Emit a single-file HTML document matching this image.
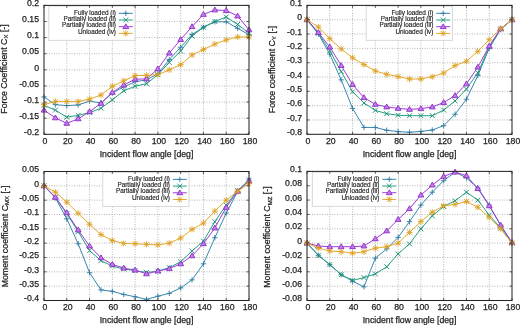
<!DOCTYPE html>
<html><head><meta charset="utf-8"><style>
html,body{margin:0;padding:0;background:#fff;}
svg{display:block;filter:blur(0.3px);}
text{font-family:"Liberation Sans",Arial,sans-serif;fill:#1e1e1e;stroke:#1e1e1e;stroke-width:0.25px;}
.yt{font-size:8.7px;text-anchor:end;}
.xt{font-size:8.7px;text-anchor:middle;}
.xl{font-size:8.7px;text-anchor:middle;}
.yl{font-size:8.8px;text-anchor:middle;}
.sub{font-size:6px;}
.lt{font-size:6.4px;text-anchor:end;stroke-width:0.15px;}
.grid{stroke:#a9a9a9;stroke-width:0.85;stroke-dasharray:1 1.5;fill:none;}
.tick{stroke:#333;stroke-width:0.8;fill:none;}
.frame{stroke:#262626;stroke-width:1.05;fill:none;}
.leg{stroke:#cfcfcf;stroke-width:0.8;fill:#fff;}
.ln{fill:none;stroke-width:1;}
.m{fill:none;stroke-width:0.9;}
</style></head><body>
<svg width="520" height="325" viewBox="0 0 520 325">
<rect width="520" height="325" fill="#fff"/>
<path d="M66.78 5.40V134.30M89.56 5.40V134.30M112.33 5.40V134.30M135.11 5.40V134.30M157.89 5.40V134.30M180.67 5.40V134.30M203.44 5.40V134.30M226.22 5.40V134.30M44.00 21.51H249.00M44.00 37.62H249.00M44.00 53.74H249.00M44.00 69.85H249.00M44.00 85.96H249.00M44.00 102.08H249.00M44.00 118.19H249.00" class="grid"/>
<rect x="48.80" y="6.10" width="86.2" height="34.20" class="leg"/>
<polyline points="44.00,96.92 55.39,104.65 66.78,105.62 78.17,104.98 89.56,101.11 100.94,103.04 112.33,93.05 123.72,86.93 135.11,81.77 146.50,79.84 157.89,73.72 169.28,59.54 180.67,47.29 192.06,34.40 203.44,27.31 214.83,21.83 226.22,21.83 237.61,28.28 249.00,34.72" stroke="#3a88b0" class="ln"/>
<path d="M41.30 96.92H46.70M44.00 94.22V99.62" stroke="#2f7aa2" class="m"/>
<path d="M52.69 104.65H58.09M55.39 101.95V107.35" stroke="#2f7aa2" class="m"/>
<path d="M64.08 105.62H69.48M66.78 102.92V108.32" stroke="#2f7aa2" class="m"/>
<path d="M75.47 104.98H80.87M78.17 102.28V107.68" stroke="#2f7aa2" class="m"/>
<path d="M86.86 101.11H92.26M89.56 98.41V103.81" stroke="#2f7aa2" class="m"/>
<path d="M98.24 103.04H103.64M100.94 100.34V105.74" stroke="#2f7aa2" class="m"/>
<path d="M109.63 93.05H115.03M112.33 90.35V95.75" stroke="#2f7aa2" class="m"/>
<path d="M121.02 86.93H126.42M123.72 84.23V89.63" stroke="#2f7aa2" class="m"/>
<path d="M132.41 81.77H137.81M135.11 79.07V84.47" stroke="#2f7aa2" class="m"/>
<path d="M143.80 79.84H149.20M146.50 77.14V82.54" stroke="#2f7aa2" class="m"/>
<path d="M155.19 73.72H160.59M157.89 71.02V76.42" stroke="#2f7aa2" class="m"/>
<path d="M166.58 59.54H171.98M169.28 56.84V62.24" stroke="#2f7aa2" class="m"/>
<path d="M177.97 47.29H183.37M180.67 44.59V49.99" stroke="#2f7aa2" class="m"/>
<path d="M189.36 34.40H194.76M192.06 31.70V37.10" stroke="#2f7aa2" class="m"/>
<path d="M200.74 27.31H206.14M203.44 24.61V30.01" stroke="#2f7aa2" class="m"/>
<path d="M212.13 21.83H217.53M214.83 19.13V24.53" stroke="#2f7aa2" class="m"/>
<path d="M223.52 21.83H228.92M226.22 19.13V24.53" stroke="#2f7aa2" class="m"/>
<path d="M234.91 28.28H240.31M237.61 25.58V30.98" stroke="#2f7aa2" class="m"/>
<path d="M246.30 34.72H251.70M249.00 32.02V37.42" stroke="#2f7aa2" class="m"/>
<polyline points="44.00,105.30 55.39,110.13 66.78,117.22 78.17,115.29 89.56,112.71 100.94,108.20 112.33,99.82 123.72,90.80 135.11,86.28 146.50,83.71 157.89,74.68 169.28,62.44 180.67,51.16 192.06,36.01 203.44,27.31 214.83,21.51 226.22,17.00 237.61,24.41 249.00,33.11" stroke="#22a084" class="ln"/>
<path d="M41.57 102.87L46.43 107.73M41.57 107.73L46.43 102.87" stroke="#168a6c" class="m"/>
<path d="M52.96 107.70L57.82 112.56M52.96 112.56L57.82 107.70" stroke="#168a6c" class="m"/>
<path d="M64.35 114.79L69.21 119.65M64.35 119.65L69.21 114.79" stroke="#168a6c" class="m"/>
<path d="M75.74 112.86L80.60 117.72M75.74 117.72L80.60 112.86" stroke="#168a6c" class="m"/>
<path d="M87.13 110.28L91.99 115.14M87.13 115.14L91.99 110.28" stroke="#168a6c" class="m"/>
<path d="M98.51 105.77L103.37 110.63M98.51 110.63L103.37 105.77" stroke="#168a6c" class="m"/>
<path d="M109.90 97.39L114.76 102.25M109.90 102.25L114.76 97.39" stroke="#168a6c" class="m"/>
<path d="M121.29 88.37L126.15 93.23M121.29 93.23L126.15 88.37" stroke="#168a6c" class="m"/>
<path d="M132.68 83.85L137.54 88.71M132.68 88.71L137.54 83.85" stroke="#168a6c" class="m"/>
<path d="M144.07 81.28L148.93 86.14M144.07 86.14L148.93 81.28" stroke="#168a6c" class="m"/>
<path d="M155.46 72.25L160.32 77.11M155.46 77.11L160.32 72.25" stroke="#168a6c" class="m"/>
<path d="M166.85 60.01L171.71 64.87M166.85 64.87L171.71 60.01" stroke="#168a6c" class="m"/>
<path d="M178.24 48.73L183.10 53.59M178.24 53.59L183.10 48.73" stroke="#168a6c" class="m"/>
<path d="M189.63 33.58L194.49 38.44M189.63 38.44L194.49 33.58" stroke="#168a6c" class="m"/>
<path d="M201.01 24.88L205.87 29.74M201.01 29.74L205.87 24.88" stroke="#168a6c" class="m"/>
<path d="M212.40 19.08L217.26 23.94M212.40 23.94L217.26 19.08" stroke="#168a6c" class="m"/>
<path d="M223.79 14.57L228.65 19.43M223.79 19.43L228.65 14.57" stroke="#168a6c" class="m"/>
<path d="M235.18 21.98L240.04 26.84M235.18 26.84L240.04 21.98" stroke="#168a6c" class="m"/>
<path d="M246.57 30.68L251.43 35.54M246.57 35.54L251.43 30.68" stroke="#168a6c" class="m"/>
<polyline points="44.00,110.13 55.39,117.87 66.78,123.34 78.17,118.83 89.56,111.74 100.94,103.36 112.33,92.41 123.72,85.00 135.11,79.20 146.50,78.87 157.89,68.88 169.28,53.09 180.67,39.56 192.06,26.67 203.44,14.42 214.83,9.91 226.22,10.56 237.61,16.03 249.00,29.89" stroke="#a03cd8" class="ln"/>
<path d="M44.00 107.24L46.89 112.08H41.11Z" stroke="#8e2cc6" class="m" style="fill:#bf7ee8"/>
<path d="M55.39 114.98L58.28 119.81H52.50Z" stroke="#8e2cc6" class="m" style="fill:#bf7ee8"/>
<path d="M66.78 120.45L69.67 125.29H63.89Z" stroke="#8e2cc6" class="m" style="fill:#bf7ee8"/>
<path d="M78.17 115.94L81.06 120.78H75.28Z" stroke="#8e2cc6" class="m" style="fill:#bf7ee8"/>
<path d="M89.56 108.85L92.44 113.69H86.67Z" stroke="#8e2cc6" class="m" style="fill:#bf7ee8"/>
<path d="M100.94 100.48L103.83 105.31H98.06Z" stroke="#8e2cc6" class="m" style="fill:#bf7ee8"/>
<path d="M112.33 89.52L115.22 94.35H109.44Z" stroke="#8e2cc6" class="m" style="fill:#bf7ee8"/>
<path d="M123.72 82.11L126.61 86.94H120.83Z" stroke="#8e2cc6" class="m" style="fill:#bf7ee8"/>
<path d="M135.11 76.31L138.00 81.14H132.22Z" stroke="#8e2cc6" class="m" style="fill:#bf7ee8"/>
<path d="M146.50 75.98L149.39 80.82H143.61Z" stroke="#8e2cc6" class="m" style="fill:#bf7ee8"/>
<path d="M157.89 65.99L160.78 70.83H155.00Z" stroke="#8e2cc6" class="m" style="fill:#bf7ee8"/>
<path d="M169.28 50.20L172.17 55.04H166.39Z" stroke="#8e2cc6" class="m" style="fill:#bf7ee8"/>
<path d="M180.67 36.67L183.56 41.50H177.78Z" stroke="#8e2cc6" class="m" style="fill:#bf7ee8"/>
<path d="M192.06 23.78L194.94 28.61H189.17Z" stroke="#8e2cc6" class="m" style="fill:#bf7ee8"/>
<path d="M203.44 11.53L206.33 16.37H200.56Z" stroke="#8e2cc6" class="m" style="fill:#bf7ee8"/>
<path d="M214.83 7.02L217.72 11.86H211.94Z" stroke="#8e2cc6" class="m" style="fill:#bf7ee8"/>
<path d="M226.22 7.67L229.11 12.50H223.33Z" stroke="#8e2cc6" class="m" style="fill:#bf7ee8"/>
<path d="M237.61 13.15L240.50 17.98H234.72Z" stroke="#8e2cc6" class="m" style="fill:#bf7ee8"/>
<path d="M249.00 27.00L251.89 31.84H246.11Z" stroke="#8e2cc6" class="m" style="fill:#bf7ee8"/>
<polyline points="44.00,104.65 55.39,101.43 66.78,101.43 78.17,101.43 89.56,99.17 100.94,94.99 112.33,86.28 123.72,80.81 135.11,75.65 146.50,75.33 157.89,74.68 169.28,69.85 180.67,64.69 192.06,55.03 203.44,49.55 214.83,44.07 226.22,39.88 237.61,36.98 249.00,36.98" stroke="#e6aa2c" class="ln"/>
<path d="M40.98 104.65H47.02M44.00 101.63V107.68M41.58 102.23L46.42 107.07M41.58 107.07L46.42 102.23" stroke="#dca024" class="m"/>
<path d="M52.36 101.43H58.41M55.39 98.41V104.45M52.97 99.01L57.81 103.85M52.97 103.85L57.81 99.01" stroke="#dca024" class="m"/>
<path d="M63.75 101.43H69.80M66.78 98.41V104.45M64.36 99.01L69.20 103.85M64.36 103.85L69.20 99.01" stroke="#dca024" class="m"/>
<path d="M75.14 101.43H81.19M78.17 98.41V104.45M75.75 99.01L80.59 103.85M75.75 103.85L80.59 99.01" stroke="#dca024" class="m"/>
<path d="M86.53 99.17H92.58M89.56 96.15V102.20M87.14 96.76L91.97 101.59M87.14 101.59L91.97 96.76" stroke="#dca024" class="m"/>
<path d="M97.92 94.99H103.97M100.94 91.96V98.01M98.53 92.57L103.36 97.40M98.53 97.40L103.36 92.57" stroke="#dca024" class="m"/>
<path d="M109.31 86.28H115.36M112.33 83.26V89.31M109.91 83.87L114.75 88.70M109.91 88.70L114.75 83.87" stroke="#dca024" class="m"/>
<path d="M120.70 80.81H126.75M123.72 77.78V83.83M121.30 78.39L126.14 83.23M121.30 83.23L126.14 78.39" stroke="#dca024" class="m"/>
<path d="M132.09 75.65H138.14M135.11 72.63V78.67M132.69 73.23L137.53 78.07M132.69 78.07L137.53 73.23" stroke="#dca024" class="m"/>
<path d="M143.48 75.33H149.52M146.50 72.30V78.35M144.08 72.91L148.92 77.75M144.08 77.75L148.92 72.91" stroke="#dca024" class="m"/>
<path d="M154.86 74.68H160.91M157.89 71.66V77.71M155.47 72.26L160.31 77.10M155.47 77.10L160.31 72.26" stroke="#dca024" class="m"/>
<path d="M166.25 69.85H172.30M169.28 66.83V72.87M166.86 67.43L171.70 72.27M166.86 72.27L171.70 67.43" stroke="#dca024" class="m"/>
<path d="M177.64 64.69H183.69M180.67 61.67V67.72M178.25 62.27L183.09 67.11M178.25 67.11L183.09 62.27" stroke="#dca024" class="m"/>
<path d="M189.03 55.03H195.08M192.06 52.00V58.05M189.64 52.61L194.47 57.45M189.64 57.45L194.47 52.61" stroke="#dca024" class="m"/>
<path d="M200.42 49.55H206.47M203.44 46.52V52.57M201.03 47.13L205.86 51.97M201.03 51.97L205.86 47.13" stroke="#dca024" class="m"/>
<path d="M211.81 44.07H217.86M214.83 41.05V47.09M212.41 41.65L217.25 46.49M212.41 46.49L217.25 41.65" stroke="#dca024" class="m"/>
<path d="M223.20 39.88H229.25M226.22 36.86V42.90M223.80 37.46L228.64 42.30M223.80 42.30L228.64 37.46" stroke="#dca024" class="m"/>
<path d="M234.59 36.98H240.64M237.61 33.96V40.00M235.19 34.56L240.03 39.40M235.19 39.40L240.03 34.56" stroke="#dca024" class="m"/>
<path d="M245.98 36.98H252.02M249.00 33.96V40.00M246.58 34.56L251.42 39.40M246.58 39.40L251.42 34.56" stroke="#dca024" class="m"/>
<path d="M44.00 134.30v-2.5M44.00 5.40v2.5M66.78 134.30v-2.5M66.78 5.40v2.5M89.56 134.30v-2.5M89.56 5.40v2.5M112.33 134.30v-2.5M112.33 5.40v2.5M135.11 134.30v-2.5M135.11 5.40v2.5M157.89 134.30v-2.5M157.89 5.40v2.5M180.67 134.30v-2.5M180.67 5.40v2.5M203.44 134.30v-2.5M203.44 5.40v2.5M226.22 134.30v-2.5M226.22 5.40v2.5M249.00 134.30v-2.5M249.00 5.40v2.5M44.00 5.40h2.5M249.00 5.40h-2.5M44.00 21.51h2.5M249.00 21.51h-2.5M44.00 37.62h2.5M249.00 37.62h-2.5M44.00 53.74h2.5M249.00 53.74h-2.5M44.00 69.85h2.5M249.00 69.85h-2.5M44.00 85.96h2.5M249.00 85.96h-2.5M44.00 102.08h2.5M249.00 102.08h-2.5M44.00 118.19h2.5M249.00 118.19h-2.5M44.00 134.30h2.5M249.00 134.30h-2.5" class="tick"/>
<rect x="44.00" y="5.40" width="205.00" height="128.90" class="frame"/>
<text x="116.00" y="14.85" class="lt">Fully loaded (i)</text>
<path d="M118.80 13.30H132.80" stroke="#3a88b0" class="ln"/>
<path d="M123.10 13.30H128.50M125.80 10.60V16.00" stroke="#2f7aa2" class="m"/>
<text x="116.00" y="21.10" class="lt">Partially loaded (ii)</text>
<path d="M118.80 20.00H132.80" stroke="#22a084" class="ln"/>
<path d="M123.37 17.57L128.23 22.43M123.37 22.43L128.23 17.57" stroke="#168a6c" class="m"/>
<text x="116.00" y="27.35" class="lt">Partially loaded (iii)</text>
<path d="M118.80 26.70H132.80" stroke="#a03cd8" class="ln"/>
<path d="M125.80 23.81L128.69 28.64H122.91Z" stroke="#8e2cc6" class="m" style="fill:#bf7ee8"/>
<text x="116.00" y="33.60" class="lt">Unloaded (iv)</text>
<path d="M118.80 33.40H132.80" stroke="#e6aa2c" class="ln"/>
<path d="M122.78 33.40H128.82M125.80 30.38V36.42M123.38 30.98L128.22 35.82M123.38 35.82L128.22 30.98" stroke="#dca024" class="m"/>
<text x="39.00" y="6.10" class="yt">0.2</text>
<text x="39.00" y="22.21" class="yt">0.15</text>
<text x="39.00" y="38.33" class="yt">0.1</text>
<text x="39.00" y="54.44" class="yt">0.05</text>
<text x="39.00" y="70.55" class="yt">0</text>
<text x="39.00" y="86.66" class="yt">-0.05</text>
<text x="39.00" y="102.78" class="yt">-0.1</text>
<text x="39.00" y="118.89" class="yt">-0.15</text>
<text x="39.00" y="135.00" class="yt">-0.2</text>
<text x="45.00" y="143.90" class="xt">0</text>
<text x="67.78" y="143.90" class="xt">20</text>
<text x="90.56" y="143.90" class="xt">40</text>
<text x="113.33" y="143.90" class="xt">60</text>
<text x="136.11" y="143.90" class="xt">80</text>
<text x="158.89" y="143.90" class="xt">100</text>
<text x="181.67" y="143.90" class="xt">120</text>
<text x="204.44" y="143.90" class="xt">140</text>
<text x="227.22" y="143.90" class="xt">160</text>
<text x="250.00" y="143.90" class="xt">180</text>
<text x="146.50" y="156.70" class="xl">Incident flow angle [deg]</text>
<text transform="translate(6.60 69.00) rotate(-90)" class="yl">Force Coefficient C<tspan class="sub" dy="1.6">X</tspan><tspan dy="-1.6"> [-]</tspan></text>
<path d="M329.78 5.40V134.30M352.56 5.40V134.30M375.33 5.40V134.30M398.11 5.40V134.30M420.89 5.40V134.30M443.67 5.40V134.30M466.44 5.40V134.30M489.22 5.40V134.30M307.00 19.72H512.00M307.00 34.04H512.00M307.00 48.37H512.00M307.00 62.69H512.00M307.00 77.01H512.00M307.00 91.33H512.00M307.00 105.66H512.00M307.00 119.98H512.00" class="grid"/>
<rect x="366.20" y="6.10" width="86.2" height="34.20" class="leg"/>
<polyline points="307.00,19.72 318.39,34.04 329.78,54.10 341.17,79.88 352.56,108.38 363.94,127.43 375.33,127.43 386.72,130.29 398.11,131.58 409.50,132.29 420.89,131.44 432.28,130.00 443.67,125.71 455.06,114.25 466.44,99.21 477.83,75.58 489.22,48.37 500.61,29.46 512.00,19.72" stroke="#3a88b0" class="ln"/>
<path d="M304.30 19.72H309.70M307.00 17.02V22.42" stroke="#2f7aa2" class="m"/>
<path d="M315.69 34.04H321.09M318.39 31.34V36.74" stroke="#2f7aa2" class="m"/>
<path d="M327.08 54.10H332.48M329.78 51.40V56.80" stroke="#2f7aa2" class="m"/>
<path d="M338.47 79.88H343.87M341.17 77.18V82.58" stroke="#2f7aa2" class="m"/>
<path d="M349.86 108.38H355.26M352.56 105.68V111.08" stroke="#2f7aa2" class="m"/>
<path d="M361.24 127.43H366.64M363.94 124.73V130.13" stroke="#2f7aa2" class="m"/>
<path d="M372.63 127.43H378.03M375.33 124.73V130.13" stroke="#2f7aa2" class="m"/>
<path d="M384.02 130.29H389.42M386.72 127.59V132.99" stroke="#2f7aa2" class="m"/>
<path d="M395.41 131.58H400.81M398.11 128.88V134.28" stroke="#2f7aa2" class="m"/>
<path d="M406.80 132.29H412.20M409.50 129.59V134.99" stroke="#2f7aa2" class="m"/>
<path d="M418.19 131.44H423.59M420.89 128.74V134.14" stroke="#2f7aa2" class="m"/>
<path d="M429.58 130.00H434.98M432.28 127.30V132.70" stroke="#2f7aa2" class="m"/>
<path d="M440.97 125.71H446.37M443.67 123.01V128.41" stroke="#2f7aa2" class="m"/>
<path d="M452.36 114.25H457.76M455.06 111.55V116.95" stroke="#2f7aa2" class="m"/>
<path d="M463.74 99.21H469.14M466.44 96.51V101.91" stroke="#2f7aa2" class="m"/>
<path d="M475.13 75.58H480.53M477.83 72.88V78.28" stroke="#2f7aa2" class="m"/>
<path d="M486.52 48.37H491.92M489.22 45.67V51.07" stroke="#2f7aa2" class="m"/>
<path d="M497.91 29.46H503.31M500.61 26.76V32.16" stroke="#2f7aa2" class="m"/>
<path d="M509.30 19.72H514.70M512.00 17.02V22.42" stroke="#2f7aa2" class="m"/>
<polyline points="307.00,19.72 318.39,33.33 329.78,50.52 341.17,71.57 352.56,91.76 363.94,102.93 375.33,110.38 386.72,113.68 398.11,115.25 409.50,115.68 420.89,115.68 432.28,115.68 443.67,110.10 455.06,100.93 466.44,89.04 477.83,72.71 489.22,46.93 500.61,29.03 512.00,19.72" stroke="#22a084" class="ln"/>
<path d="M304.57 17.29L309.43 22.15M304.57 22.15L309.43 17.29" stroke="#168a6c" class="m"/>
<path d="M315.96 30.90L320.82 35.76M315.96 35.76L320.82 30.90" stroke="#168a6c" class="m"/>
<path d="M327.35 48.09L332.21 52.95M327.35 52.95L332.21 48.09" stroke="#168a6c" class="m"/>
<path d="M338.74 69.14L343.60 74.00M338.74 74.00L343.60 69.14" stroke="#168a6c" class="m"/>
<path d="M350.13 89.33L354.99 94.19M350.13 94.19L354.99 89.33" stroke="#168a6c" class="m"/>
<path d="M361.51 100.50L366.37 105.36M361.51 105.36L366.37 100.50" stroke="#168a6c" class="m"/>
<path d="M372.90 107.95L377.76 112.81M372.90 112.81L377.76 107.95" stroke="#168a6c" class="m"/>
<path d="M384.29 111.25L389.15 116.11M384.29 116.11L389.15 111.25" stroke="#168a6c" class="m"/>
<path d="M395.68 112.82L400.54 117.68M395.68 117.68L400.54 112.82" stroke="#168a6c" class="m"/>
<path d="M407.07 113.25L411.93 118.11M407.07 118.11L411.93 113.25" stroke="#168a6c" class="m"/>
<path d="M418.46 113.25L423.32 118.11M418.46 118.11L423.32 113.25" stroke="#168a6c" class="m"/>
<path d="M429.85 113.25L434.71 118.11M429.85 118.11L434.71 113.25" stroke="#168a6c" class="m"/>
<path d="M441.24 107.67L446.10 112.53M441.24 112.53L446.10 107.67" stroke="#168a6c" class="m"/>
<path d="M452.63 98.50L457.49 103.36M452.63 103.36L457.49 98.50" stroke="#168a6c" class="m"/>
<path d="M464.01 86.61L468.87 91.47M464.01 91.47L468.87 86.61" stroke="#168a6c" class="m"/>
<path d="M475.40 70.28L480.26 75.14M475.40 75.14L480.26 70.28" stroke="#168a6c" class="m"/>
<path d="M486.79 44.50L491.65 49.36M486.79 49.36L491.65 44.50" stroke="#168a6c" class="m"/>
<path d="M498.18 26.60L503.04 31.46M498.18 31.46L503.04 26.60" stroke="#168a6c" class="m"/>
<path d="M509.57 17.29L514.43 22.15M509.57 22.15L514.43 17.29" stroke="#168a6c" class="m"/>
<polyline points="307.00,19.72 318.39,32.47 329.78,46.93 341.17,65.55 352.56,84.46 363.94,97.64 375.33,104.37 386.72,106.94 398.11,108.38 409.50,109.38 420.89,108.66 432.28,106.94 443.67,102.50 455.06,95.63 466.44,83.89 477.83,67.13 489.22,46.08 500.61,28.75 512.00,19.72" stroke="#a03cd8" class="ln"/>
<path d="M307.00 16.83L309.89 21.67H304.11Z" stroke="#8e2cc6" class="m" style="fill:#bf7ee8"/>
<path d="M318.39 29.58L321.28 34.41H315.50Z" stroke="#8e2cc6" class="m" style="fill:#bf7ee8"/>
<path d="M329.78 44.05L332.67 48.88H326.89Z" stroke="#8e2cc6" class="m" style="fill:#bf7ee8"/>
<path d="M341.17 62.66L344.06 67.50H338.28Z" stroke="#8e2cc6" class="m" style="fill:#bf7ee8"/>
<path d="M352.56 81.57L355.44 86.40H349.67Z" stroke="#8e2cc6" class="m" style="fill:#bf7ee8"/>
<path d="M363.94 94.75L366.83 99.58H361.06Z" stroke="#8e2cc6" class="m" style="fill:#bf7ee8"/>
<path d="M375.33 101.48L378.22 106.31H372.44Z" stroke="#8e2cc6" class="m" style="fill:#bf7ee8"/>
<path d="M386.72 104.06L389.61 108.89H383.83Z" stroke="#8e2cc6" class="m" style="fill:#bf7ee8"/>
<path d="M398.11 105.49L401.00 110.32H395.22Z" stroke="#8e2cc6" class="m" style="fill:#bf7ee8"/>
<path d="M409.50 106.49L412.39 111.32H406.61Z" stroke="#8e2cc6" class="m" style="fill:#bf7ee8"/>
<path d="M420.89 105.77L423.78 110.61H418.00Z" stroke="#8e2cc6" class="m" style="fill:#bf7ee8"/>
<path d="M432.28 104.06L435.17 108.89H429.39Z" stroke="#8e2cc6" class="m" style="fill:#bf7ee8"/>
<path d="M443.67 99.62L446.56 104.45H440.78Z" stroke="#8e2cc6" class="m" style="fill:#bf7ee8"/>
<path d="M455.06 92.74L457.94 97.57H452.17Z" stroke="#8e2cc6" class="m" style="fill:#bf7ee8"/>
<path d="M466.44 81.00L469.33 85.83H463.56Z" stroke="#8e2cc6" class="m" style="fill:#bf7ee8"/>
<path d="M477.83 64.24L480.72 69.07H474.94Z" stroke="#8e2cc6" class="m" style="fill:#bf7ee8"/>
<path d="M489.22 43.19L492.11 48.02H486.33Z" stroke="#8e2cc6" class="m" style="fill:#bf7ee8"/>
<path d="M500.61 25.86L503.50 30.69H497.72Z" stroke="#8e2cc6" class="m" style="fill:#bf7ee8"/>
<path d="M512.00 16.83L514.89 21.67H509.11Z" stroke="#8e2cc6" class="m" style="fill:#bf7ee8"/>
<polyline points="307.00,19.72 318.39,27.03 329.78,38.63 341.17,48.94 352.56,57.82 363.94,64.55 375.33,71.00 386.72,74.29 398.11,76.58 409.50,79.02 420.89,79.02 432.28,76.72 443.67,73.00 455.06,65.55 466.44,61.26 477.83,51.37 489.22,39.77 500.61,28.75 512.00,19.72" stroke="#e6aa2c" class="ln"/>
<path d="M303.98 19.72H310.02M307.00 16.70V22.75M304.58 17.30L309.42 22.14M304.58 22.14L309.42 17.30" stroke="#dca024" class="m"/>
<path d="M315.36 27.03H321.41M318.39 24.00V30.05M315.97 24.61L320.81 29.45M315.97 29.45L320.81 24.61" stroke="#dca024" class="m"/>
<path d="M326.75 38.63H332.80M329.78 35.60V41.65M327.36 36.21L332.20 41.05M327.36 41.05L332.20 36.21" stroke="#dca024" class="m"/>
<path d="M338.14 48.94H344.19M341.17 45.92V51.96M338.75 46.52L343.59 51.36M338.75 51.36L343.59 46.52" stroke="#dca024" class="m"/>
<path d="M349.53 57.82H355.58M352.56 54.80V60.84M350.14 55.40L354.97 60.24M350.14 60.24L354.97 55.40" stroke="#dca024" class="m"/>
<path d="M360.92 64.55H366.97M363.94 61.53V67.57M361.53 62.13L366.36 66.97M361.53 66.97L366.36 62.13" stroke="#dca024" class="m"/>
<path d="M372.31 71.00H378.36M375.33 67.97V74.02M372.91 68.58L377.75 73.41M372.91 73.41L377.75 68.58" stroke="#dca024" class="m"/>
<path d="M383.70 74.29H389.75M386.72 71.27V77.31M384.30 71.87L389.14 76.71M384.30 76.71L389.14 71.87" stroke="#dca024" class="m"/>
<path d="M395.09 76.58H401.14M398.11 73.56V79.61M395.69 74.16L400.53 79.00M395.69 79.00L400.53 74.16" stroke="#dca024" class="m"/>
<path d="M406.48 79.02H412.52M409.50 75.99V82.04M407.08 76.60L411.92 81.44M407.08 81.44L411.92 76.60" stroke="#dca024" class="m"/>
<path d="M417.86 79.02H423.91M420.89 75.99V82.04M418.47 76.60L423.31 81.44M418.47 81.44L423.31 76.60" stroke="#dca024" class="m"/>
<path d="M429.25 76.72H435.30M432.28 73.70V79.75M429.86 74.31L434.70 79.14M429.86 79.14L434.70 74.31" stroke="#dca024" class="m"/>
<path d="M440.64 73.00H446.69M443.67 69.98V76.02M441.25 70.58L446.09 75.42M441.25 75.42L446.09 70.58" stroke="#dca024" class="m"/>
<path d="M452.03 65.55H458.08M455.06 62.53V68.58M452.64 63.13L457.47 67.97M452.64 67.97L457.47 63.13" stroke="#dca024" class="m"/>
<path d="M463.42 61.26H469.47M466.44 58.23V64.28M464.03 58.84L468.86 63.68M464.03 63.68L468.86 58.84" stroke="#dca024" class="m"/>
<path d="M474.81 51.37H480.86M477.83 48.35V54.40M475.41 48.96L480.25 53.79M475.41 53.79L480.25 48.96" stroke="#dca024" class="m"/>
<path d="M486.20 39.77H492.25M489.22 36.75V42.80M486.80 37.35L491.64 42.19M486.80 42.19L491.64 37.35" stroke="#dca024" class="m"/>
<path d="M497.59 28.75H503.64M500.61 25.72V31.77M498.19 26.33L503.03 31.16M498.19 31.16L503.03 26.33" stroke="#dca024" class="m"/>
<path d="M508.98 19.72H515.02M512.00 16.70V22.75M509.58 17.30L514.42 22.14M509.58 22.14L514.42 17.30" stroke="#dca024" class="m"/>
<path d="M307.00 134.30v-2.5M307.00 5.40v2.5M329.78 134.30v-2.5M329.78 5.40v2.5M352.56 134.30v-2.5M352.56 5.40v2.5M375.33 134.30v-2.5M375.33 5.40v2.5M398.11 134.30v-2.5M398.11 5.40v2.5M420.89 134.30v-2.5M420.89 5.40v2.5M443.67 134.30v-2.5M443.67 5.40v2.5M466.44 134.30v-2.5M466.44 5.40v2.5M489.22 134.30v-2.5M489.22 5.40v2.5M512.00 134.30v-2.5M512.00 5.40v2.5M307.00 5.40h2.5M512.00 5.40h-2.5M307.00 19.72h2.5M512.00 19.72h-2.5M307.00 34.04h2.5M512.00 34.04h-2.5M307.00 48.37h2.5M512.00 48.37h-2.5M307.00 62.69h2.5M512.00 62.69h-2.5M307.00 77.01h2.5M512.00 77.01h-2.5M307.00 91.33h2.5M512.00 91.33h-2.5M307.00 105.66h2.5M512.00 105.66h-2.5M307.00 119.98h2.5M512.00 119.98h-2.5M307.00 134.30h2.5M512.00 134.30h-2.5" class="tick"/>
<rect x="307.00" y="5.40" width="205.00" height="128.90" class="frame"/>
<text x="433.40" y="14.85" class="lt">Fully loaded (i)</text>
<path d="M436.20 13.30H450.20" stroke="#3a88b0" class="ln"/>
<path d="M440.50 13.30H445.90M443.20 10.60V16.00" stroke="#2f7aa2" class="m"/>
<text x="433.40" y="21.10" class="lt">Partially loaded (ii)</text>
<path d="M436.20 20.00H450.20" stroke="#22a084" class="ln"/>
<path d="M440.77 17.57L445.63 22.43M440.77 22.43L445.63 17.57" stroke="#168a6c" class="m"/>
<text x="433.40" y="27.35" class="lt">Partially loaded (iii)</text>
<path d="M436.20 26.70H450.20" stroke="#a03cd8" class="ln"/>
<path d="M443.20 23.81L446.09 28.64H440.31Z" stroke="#8e2cc6" class="m" style="fill:#bf7ee8"/>
<text x="433.40" y="33.60" class="lt">Unloaded (iv)</text>
<path d="M436.20 33.40H450.20" stroke="#e6aa2c" class="ln"/>
<path d="M440.18 33.40H446.22M443.20 30.38V36.42M440.78 30.98L445.62 35.82M440.78 35.82L445.62 30.98" stroke="#dca024" class="m"/>
<text x="302.00" y="6.10" class="yt">0.1</text>
<text x="302.00" y="20.42" class="yt">0</text>
<text x="302.00" y="34.74" class="yt">-0.1</text>
<text x="302.00" y="49.07" class="yt">-0.2</text>
<text x="302.00" y="63.39" class="yt">-0.3</text>
<text x="302.00" y="77.71" class="yt">-0.4</text>
<text x="302.00" y="92.03" class="yt">-0.5</text>
<text x="302.00" y="106.36" class="yt">-0.6</text>
<text x="302.00" y="120.68" class="yt">-0.7</text>
<text x="302.00" y="135.00" class="yt">-0.8</text>
<text x="308.00" y="143.90" class="xt">0</text>
<text x="330.78" y="143.90" class="xt">20</text>
<text x="353.56" y="143.90" class="xt">40</text>
<text x="376.33" y="143.90" class="xt">60</text>
<text x="399.11" y="143.90" class="xt">80</text>
<text x="421.89" y="143.90" class="xt">100</text>
<text x="444.67" y="143.90" class="xt">120</text>
<text x="467.44" y="143.90" class="xt">140</text>
<text x="490.22" y="143.90" class="xt">160</text>
<text x="513.00" y="143.90" class="xt">180</text>
<text x="409.50" y="156.70" class="xl">Incident flow angle [deg]</text>
<text transform="translate(274.60 69.50) rotate(-90)" class="yl">Force coefficient C<tspan class="sub" dy="1.6">Y</tspan><tspan dy="-1.6"> [-]</tspan></text>
<path d="M66.78 171.50V300.50M89.56 171.50V300.50M112.33 171.50V300.50M135.11 171.50V300.50M157.89 171.50V300.50M180.67 171.50V300.50M203.44 171.50V300.50M226.22 171.50V300.50M44.00 185.83H249.00M44.00 200.17H249.00M44.00 214.50H249.00M44.00 228.83H249.00M44.00 243.17H249.00M44.00 257.50H249.00M44.00 271.83H249.00M44.00 286.17H249.00" class="grid"/>
<rect x="102.80" y="172.20" width="86.2" height="34.20" class="leg"/>
<polyline points="44.00,185.83 55.39,197.87 66.78,218.80 78.17,243.74 89.56,272.69 100.94,289.89 112.33,291.33 123.72,294.48 135.11,296.77 146.50,299.35 157.89,296.20 169.28,293.33 180.67,287.89 192.06,279.86 203.44,263.81 214.83,237.72 226.22,213.07 237.61,191.57 249.00,180.10" stroke="#3a88b0" class="ln"/>
<path d="M41.30 185.83H46.70M44.00 183.13V188.53" stroke="#2f7aa2" class="m"/>
<path d="M52.69 197.87H58.09M55.39 195.17V200.57" stroke="#2f7aa2" class="m"/>
<path d="M64.08 218.80H69.48M66.78 216.10V221.50" stroke="#2f7aa2" class="m"/>
<path d="M75.47 243.74H80.87M78.17 241.04V246.44" stroke="#2f7aa2" class="m"/>
<path d="M86.86 272.69H92.26M89.56 269.99V275.39" stroke="#2f7aa2" class="m"/>
<path d="M98.24 289.89H103.64M100.94 287.19V292.59" stroke="#2f7aa2" class="m"/>
<path d="M109.63 291.33H115.03M112.33 288.63V294.03" stroke="#2f7aa2" class="m"/>
<path d="M121.02 294.48H126.42M123.72 291.78V297.18" stroke="#2f7aa2" class="m"/>
<path d="M132.41 296.77H137.81M135.11 294.07V299.47" stroke="#2f7aa2" class="m"/>
<path d="M143.80 299.35H149.20M146.50 296.65V302.05" stroke="#2f7aa2" class="m"/>
<path d="M155.19 296.20H160.59M157.89 293.50V298.90" stroke="#2f7aa2" class="m"/>
<path d="M166.58 293.33H171.98M169.28 290.63V296.03" stroke="#2f7aa2" class="m"/>
<path d="M177.97 287.89H183.37M180.67 285.19V290.59" stroke="#2f7aa2" class="m"/>
<path d="M189.36 279.86H194.76M192.06 277.16V282.56" stroke="#2f7aa2" class="m"/>
<path d="M200.74 263.81H206.14M203.44 261.11V266.51" stroke="#2f7aa2" class="m"/>
<path d="M212.13 237.72H217.53M214.83 235.02V240.42" stroke="#2f7aa2" class="m"/>
<path d="M223.52 213.07H228.92M226.22 210.37V215.77" stroke="#2f7aa2" class="m"/>
<path d="M234.91 191.57H240.31M237.61 188.87V194.27" stroke="#2f7aa2" class="m"/>
<path d="M246.30 180.10H251.70M249.00 177.40V182.80" stroke="#2f7aa2" class="m"/>
<polyline points="44.00,185.83 55.39,197.30 66.78,213.64 78.17,231.70 89.56,250.62 100.94,260.65 112.33,266.10 123.72,268.97 135.11,270.69 146.50,272.41 157.89,271.26 169.28,267.53 180.67,261.80 192.06,250.91 203.44,241.16 214.83,221.67 226.22,205.04 237.61,190.42 249.00,180.10" stroke="#22a084" class="ln"/>
<path d="M41.57 183.40L46.43 188.26M41.57 188.26L46.43 183.40" stroke="#168a6c" class="m"/>
<path d="M52.96 194.87L57.82 199.73M52.96 199.73L57.82 194.87" stroke="#168a6c" class="m"/>
<path d="M64.35 211.21L69.21 216.07M64.35 216.07L69.21 211.21" stroke="#168a6c" class="m"/>
<path d="M75.74 229.27L80.60 234.13M75.74 234.13L80.60 229.27" stroke="#168a6c" class="m"/>
<path d="M87.13 248.19L91.99 253.05M87.13 253.05L91.99 248.19" stroke="#168a6c" class="m"/>
<path d="M98.51 258.22L103.37 263.08M98.51 263.08L103.37 258.22" stroke="#168a6c" class="m"/>
<path d="M109.90 263.67L114.76 268.53M109.90 268.53L114.76 263.67" stroke="#168a6c" class="m"/>
<path d="M121.29 266.54L126.15 271.40M121.29 271.40L126.15 266.54" stroke="#168a6c" class="m"/>
<path d="M132.68 268.26L137.54 273.12M132.68 273.12L137.54 268.26" stroke="#168a6c" class="m"/>
<path d="M144.07 269.98L148.93 274.84M144.07 274.84L148.93 269.98" stroke="#168a6c" class="m"/>
<path d="M155.46 268.83L160.32 273.69M155.46 273.69L160.32 268.83" stroke="#168a6c" class="m"/>
<path d="M166.85 265.10L171.71 269.96M166.85 269.96L171.71 265.10" stroke="#168a6c" class="m"/>
<path d="M178.24 259.37L183.10 264.23M178.24 264.23L183.10 259.37" stroke="#168a6c" class="m"/>
<path d="M189.63 248.48L194.49 253.34M189.63 253.34L194.49 248.48" stroke="#168a6c" class="m"/>
<path d="M201.01 238.73L205.87 243.59M201.01 243.59L205.87 238.73" stroke="#168a6c" class="m"/>
<path d="M212.40 219.24L217.26 224.10M212.40 224.10L217.26 219.24" stroke="#168a6c" class="m"/>
<path d="M223.79 202.61L228.65 207.47M223.79 207.47L228.65 202.61" stroke="#168a6c" class="m"/>
<path d="M235.18 187.99L240.04 192.85M235.18 192.85L240.04 187.99" stroke="#168a6c" class="m"/>
<path d="M246.57 177.67L251.43 182.53M246.57 182.53L251.43 177.67" stroke="#168a6c" class="m"/>
<polyline points="44.00,185.83 55.39,197.30 66.78,212.78 78.17,229.98 89.56,246.03 100.94,257.79 112.33,264.38 123.72,268.11 135.11,270.11 146.50,273.84 157.89,270.97 169.28,268.68 180.67,263.81 192.06,255.78 203.44,243.74 214.83,227.97 226.22,207.33 237.61,191.28 249.00,180.96" stroke="#a03cd8" class="ln"/>
<path d="M44.00 182.94L46.89 187.78H41.11Z" stroke="#8e2cc6" class="m" style="fill:#bf7ee8"/>
<path d="M55.39 194.41L58.28 199.24H52.50Z" stroke="#8e2cc6" class="m" style="fill:#bf7ee8"/>
<path d="M66.78 209.89L69.67 214.72H63.89Z" stroke="#8e2cc6" class="m" style="fill:#bf7ee8"/>
<path d="M78.17 227.09L81.06 231.92H75.28Z" stroke="#8e2cc6" class="m" style="fill:#bf7ee8"/>
<path d="M89.56 243.14L92.44 247.98H86.67Z" stroke="#8e2cc6" class="m" style="fill:#bf7ee8"/>
<path d="M100.94 254.90L103.83 259.73H98.06Z" stroke="#8e2cc6" class="m" style="fill:#bf7ee8"/>
<path d="M112.33 261.49L115.22 266.32H109.44Z" stroke="#8e2cc6" class="m" style="fill:#bf7ee8"/>
<path d="M123.72 265.22L126.61 270.05H120.83Z" stroke="#8e2cc6" class="m" style="fill:#bf7ee8"/>
<path d="M135.11 267.22L138.00 272.06H132.22Z" stroke="#8e2cc6" class="m" style="fill:#bf7ee8"/>
<path d="M146.50 270.95L149.39 275.78H143.61Z" stroke="#8e2cc6" class="m" style="fill:#bf7ee8"/>
<path d="M157.89 268.08L160.78 272.92H155.00Z" stroke="#8e2cc6" class="m" style="fill:#bf7ee8"/>
<path d="M169.28 265.79L172.17 270.62H166.39Z" stroke="#8e2cc6" class="m" style="fill:#bf7ee8"/>
<path d="M180.67 260.92L183.56 265.75H177.78Z" stroke="#8e2cc6" class="m" style="fill:#bf7ee8"/>
<path d="M192.06 252.89L194.94 257.72H189.17Z" stroke="#8e2cc6" class="m" style="fill:#bf7ee8"/>
<path d="M203.44 240.85L206.33 245.68H200.56Z" stroke="#8e2cc6" class="m" style="fill:#bf7ee8"/>
<path d="M214.83 225.08L217.72 229.92H211.94Z" stroke="#8e2cc6" class="m" style="fill:#bf7ee8"/>
<path d="M226.22 204.44L229.11 209.28H223.33Z" stroke="#8e2cc6" class="m" style="fill:#bf7ee8"/>
<path d="M237.61 188.39L240.50 193.22H234.72Z" stroke="#8e2cc6" class="m" style="fill:#bf7ee8"/>
<path d="M249.00 178.07L251.89 182.90H246.11Z" stroke="#8e2cc6" class="m" style="fill:#bf7ee8"/>
<polyline points="44.00,185.83 55.39,192.14 66.78,202.17 78.17,213.35 89.56,224.25 100.94,234.57 112.33,240.59 123.72,243.45 135.11,243.74 146.50,244.31 157.89,244.89 169.28,243.17 180.67,238.01 192.06,229.41 203.44,223.10 214.83,211.06 226.22,200.17 237.61,191.28 249.00,183.54" stroke="#e6aa2c" class="ln"/>
<path d="M40.98 185.83H47.02M44.00 182.81V188.86M41.58 183.41L46.42 188.25M41.58 188.25L46.42 183.41" stroke="#dca024" class="m"/>
<path d="M52.36 192.14H58.41M55.39 189.12V195.16M52.97 189.72L57.81 194.56M52.97 194.56L57.81 189.72" stroke="#dca024" class="m"/>
<path d="M63.75 202.17H69.80M66.78 199.15V205.20M64.36 199.75L69.20 204.59M64.36 204.59L69.20 199.75" stroke="#dca024" class="m"/>
<path d="M75.14 213.35H81.19M78.17 210.33V216.38M75.75 210.93L80.59 215.77M75.75 215.77L80.59 210.93" stroke="#dca024" class="m"/>
<path d="M86.53 224.25H92.58M89.56 221.22V227.27M87.14 221.83L91.97 226.67M87.14 226.67L91.97 221.83" stroke="#dca024" class="m"/>
<path d="M97.92 234.57H103.97M100.94 231.54V237.59M98.53 232.15L103.36 236.99M98.53 236.99L103.36 232.15" stroke="#dca024" class="m"/>
<path d="M109.31 240.59H115.36M112.33 237.56V243.61M109.91 238.17L114.75 243.01M109.91 243.01L114.75 238.17" stroke="#dca024" class="m"/>
<path d="M120.70 243.45H126.75M123.72 240.43V246.48M121.30 241.03L126.14 245.87M121.30 245.87L126.14 241.03" stroke="#dca024" class="m"/>
<path d="M132.09 243.74H138.14M135.11 240.72V246.76M132.69 241.32L137.53 246.16M132.69 246.16L137.53 241.32" stroke="#dca024" class="m"/>
<path d="M143.48 244.31H149.52M146.50 241.29V247.34M144.08 241.89L148.92 246.73M144.08 246.73L148.92 241.89" stroke="#dca024" class="m"/>
<path d="M154.86 244.89H160.91M157.89 241.86V247.91M155.47 242.47L160.31 247.31M155.47 247.31L160.31 242.47" stroke="#dca024" class="m"/>
<path d="M166.25 243.17H172.30M169.28 240.14V246.19M166.86 240.75L171.70 245.59M166.86 245.59L171.70 240.75" stroke="#dca024" class="m"/>
<path d="M177.64 238.01H183.69M180.67 234.98V241.03M178.25 235.59L183.09 240.43M178.25 240.43L183.09 235.59" stroke="#dca024" class="m"/>
<path d="M189.03 229.41H195.08M192.06 226.38V232.43M189.64 226.99L194.47 231.83M189.64 231.83L194.47 226.99" stroke="#dca024" class="m"/>
<path d="M200.42 223.10H206.47M203.44 220.08V226.12M201.03 220.68L205.86 225.52M201.03 225.52L205.86 220.68" stroke="#dca024" class="m"/>
<path d="M211.81 211.06H217.86M214.83 208.04V214.08M212.41 208.64L217.25 213.48M212.41 213.48L217.25 208.64" stroke="#dca024" class="m"/>
<path d="M223.20 200.17H229.25M226.22 197.14V203.19M223.80 197.75L228.64 202.59M223.80 202.59L228.64 197.75" stroke="#dca024" class="m"/>
<path d="M234.59 191.28H240.64M237.61 188.26V194.30M235.19 188.86L240.03 193.70M235.19 193.70L240.03 188.86" stroke="#dca024" class="m"/>
<path d="M245.98 183.54H252.02M249.00 180.52V186.56M246.58 181.12L251.42 185.96M246.58 185.96L251.42 181.12" stroke="#dca024" class="m"/>
<path d="M44.00 300.50v-2.5M44.00 171.50v2.5M66.78 300.50v-2.5M66.78 171.50v2.5M89.56 300.50v-2.5M89.56 171.50v2.5M112.33 300.50v-2.5M112.33 171.50v2.5M135.11 300.50v-2.5M135.11 171.50v2.5M157.89 300.50v-2.5M157.89 171.50v2.5M180.67 300.50v-2.5M180.67 171.50v2.5M203.44 300.50v-2.5M203.44 171.50v2.5M226.22 300.50v-2.5M226.22 171.50v2.5M249.00 300.50v-2.5M249.00 171.50v2.5M44.00 171.50h2.5M249.00 171.50h-2.5M44.00 185.83h2.5M249.00 185.83h-2.5M44.00 200.17h2.5M249.00 200.17h-2.5M44.00 214.50h2.5M249.00 214.50h-2.5M44.00 228.83h2.5M249.00 228.83h-2.5M44.00 243.17h2.5M249.00 243.17h-2.5M44.00 257.50h2.5M249.00 257.50h-2.5M44.00 271.83h2.5M249.00 271.83h-2.5M44.00 286.17h2.5M249.00 286.17h-2.5M44.00 300.50h2.5M249.00 300.50h-2.5" class="tick"/>
<rect x="44.00" y="171.50" width="205.00" height="129.00" class="frame"/>
<text x="170.00" y="180.95" class="lt">Fully loaded (i)</text>
<path d="M172.80 179.40H186.80" stroke="#3a88b0" class="ln"/>
<path d="M177.10 179.40H182.50M179.80 176.70V182.10" stroke="#2f7aa2" class="m"/>
<text x="170.00" y="187.20" class="lt">Partially loaded (ii)</text>
<path d="M172.80 186.10H186.80" stroke="#22a084" class="ln"/>
<path d="M177.37 183.67L182.23 188.53M177.37 188.53L182.23 183.67" stroke="#168a6c" class="m"/>
<text x="170.00" y="193.45" class="lt">Partially loaded (iii)</text>
<path d="M172.80 192.80H186.80" stroke="#a03cd8" class="ln"/>
<path d="M179.80 189.91L182.69 194.74H176.91Z" stroke="#8e2cc6" class="m" style="fill:#bf7ee8"/>
<text x="170.00" y="199.70" class="lt">Unloaded (iv)</text>
<path d="M172.80 199.50H186.80" stroke="#e6aa2c" class="ln"/>
<path d="M176.78 199.50H182.82M179.80 196.48V202.52M177.38 197.08L182.22 201.92M177.38 201.92L182.22 197.08" stroke="#dca024" class="m"/>
<text x="39.00" y="172.20" class="yt">0.05</text>
<text x="39.00" y="186.53" class="yt">0</text>
<text x="39.00" y="200.87" class="yt">-0.05</text>
<text x="39.00" y="215.20" class="yt">-0.1</text>
<text x="39.00" y="229.53" class="yt">-0.15</text>
<text x="39.00" y="243.87" class="yt">-0.2</text>
<text x="39.00" y="258.20" class="yt">-0.25</text>
<text x="39.00" y="272.53" class="yt">-0.3</text>
<text x="39.00" y="286.87" class="yt">-0.35</text>
<text x="39.00" y="301.20" class="yt">-0.4</text>
<text x="45.00" y="310.10" class="xt">0</text>
<text x="67.78" y="310.10" class="xt">20</text>
<text x="90.56" y="310.10" class="xt">40</text>
<text x="113.33" y="310.10" class="xt">60</text>
<text x="136.11" y="310.10" class="xt">80</text>
<text x="158.89" y="310.10" class="xt">100</text>
<text x="181.67" y="310.10" class="xt">120</text>
<text x="204.44" y="310.10" class="xt">140</text>
<text x="227.22" y="310.10" class="xt">160</text>
<text x="250.00" y="310.10" class="xt">180</text>
<text x="146.50" y="322.90" class="xl">Incident flow angle [deg]</text>
<text transform="translate(7.60 236.50) rotate(-90)" class="yl">Moment coefficient C<tspan class="sub" dy="1.6">MX</tspan><tspan dy="-1.6"> [-]</tspan></text>
<path d="M329.78 171.40V300.50M352.56 171.40V300.50M375.33 171.40V300.50M398.11 171.40V300.50M420.89 171.40V300.50M443.67 171.40V300.50M466.44 171.40V300.50M489.22 171.40V300.50M307.00 185.74H512.00M307.00 200.09H512.00M307.00 214.43H512.00M307.00 228.78H512.00M307.00 243.12H512.00M307.00 257.47H512.00M307.00 271.81H512.00M307.00 286.16H512.00" class="grid"/>
<rect x="312.30" y="172.10" width="86.2" height="34.20" class="leg"/>
<polyline points="307.00,243.12 318.39,255.31 329.78,264.64 341.17,274.68 352.56,281.13 363.94,286.87 375.33,258.18 386.72,248.86 398.11,237.38 409.50,221.61 420.89,205.11 432.28,192.20 443.67,180.72 455.06,172.12 466.44,177.86 477.83,187.90 489.22,205.11 500.61,225.19 512.00,243.12" stroke="#3a88b0" class="ln"/>
<path d="M304.30 243.12H309.70M307.00 240.42V245.82" stroke="#2f7aa2" class="m"/>
<path d="M315.69 255.31H321.09M318.39 252.62V258.01" stroke="#2f7aa2" class="m"/>
<path d="M327.08 264.64H332.48M329.78 261.94V267.34" stroke="#2f7aa2" class="m"/>
<path d="M338.47 274.68H343.87M341.17 271.98V277.38" stroke="#2f7aa2" class="m"/>
<path d="M349.86 281.13H355.26M352.56 278.44V283.83" stroke="#2f7aa2" class="m"/>
<path d="M361.24 286.87H366.64M363.94 284.17V289.57" stroke="#2f7aa2" class="m"/>
<path d="M372.63 258.18H378.03M375.33 255.48V260.88" stroke="#2f7aa2" class="m"/>
<path d="M384.02 248.86H389.42M386.72 246.16V251.56" stroke="#2f7aa2" class="m"/>
<path d="M395.41 237.38H400.81M398.11 234.68V240.08" stroke="#2f7aa2" class="m"/>
<path d="M406.80 221.61H412.20M409.50 218.91V224.31" stroke="#2f7aa2" class="m"/>
<path d="M418.19 205.11H423.59M420.89 202.41V207.81" stroke="#2f7aa2" class="m"/>
<path d="M429.58 192.20H434.98M432.28 189.50V194.90" stroke="#2f7aa2" class="m"/>
<path d="M440.97 180.72H446.37M443.67 178.02V183.42" stroke="#2f7aa2" class="m"/>
<path d="M452.36 172.12H457.76M455.06 169.42V174.82" stroke="#2f7aa2" class="m"/>
<path d="M463.74 177.86H469.14M466.44 175.16V180.56" stroke="#2f7aa2" class="m"/>
<path d="M475.13 187.90H480.53M477.83 185.20V190.60" stroke="#2f7aa2" class="m"/>
<path d="M486.52 205.11H491.92M489.22 202.41V207.81" stroke="#2f7aa2" class="m"/>
<path d="M497.91 225.19H503.31M500.61 222.49V227.89" stroke="#2f7aa2" class="m"/>
<path d="M509.30 243.12H514.70M512.00 240.42V245.82" stroke="#2f7aa2" class="m"/>
<polyline points="307.00,243.12 318.39,255.31 329.78,264.64 341.17,274.68 352.56,280.42 363.94,277.55 375.33,273.96 386.72,266.79 398.11,253.88 409.50,243.84 420.89,228.78 432.28,215.87 443.67,206.54 455.06,200.81 466.44,192.20 477.83,200.09 489.22,215.15 500.61,228.06 512.00,243.12" stroke="#22a084" class="ln"/>
<path d="M304.57 240.69L309.43 245.55M304.57 245.55L309.43 240.69" stroke="#168a6c" class="m"/>
<path d="M315.96 252.88L320.82 257.75M315.96 257.75L320.82 252.88" stroke="#168a6c" class="m"/>
<path d="M327.35 262.21L332.21 267.07M327.35 267.07L332.21 262.21" stroke="#168a6c" class="m"/>
<path d="M338.74 272.25L343.60 277.11M338.74 277.11L343.60 272.25" stroke="#168a6c" class="m"/>
<path d="M350.13 277.99L354.99 282.85M350.13 282.85L354.99 277.99" stroke="#168a6c" class="m"/>
<path d="M361.51 275.12L366.37 279.98M361.51 279.98L366.37 275.12" stroke="#168a6c" class="m"/>
<path d="M372.90 271.53L377.76 276.39M372.90 276.39L377.76 271.53" stroke="#168a6c" class="m"/>
<path d="M384.29 264.36L389.15 269.22M384.29 269.22L389.15 264.36" stroke="#168a6c" class="m"/>
<path d="M395.68 251.45L400.54 256.31M395.68 256.31L400.54 251.45" stroke="#168a6c" class="m"/>
<path d="M407.07 241.41L411.93 246.27M407.07 246.27L411.93 241.41" stroke="#168a6c" class="m"/>
<path d="M418.46 226.35L423.32 231.21M418.46 231.21L423.32 226.35" stroke="#168a6c" class="m"/>
<path d="M429.85 213.44L434.71 218.30M429.85 218.30L434.71 213.44" stroke="#168a6c" class="m"/>
<path d="M441.24 204.11L446.10 208.97M441.24 208.97L446.10 204.11" stroke="#168a6c" class="m"/>
<path d="M452.63 198.38L457.49 203.24M452.63 203.24L457.49 198.38" stroke="#168a6c" class="m"/>
<path d="M464.01 189.77L468.87 194.63M464.01 194.63L468.87 189.77" stroke="#168a6c" class="m"/>
<path d="M475.40 197.66L480.26 202.52M475.40 202.52L480.26 197.66" stroke="#168a6c" class="m"/>
<path d="M486.79 212.72L491.65 217.58M486.79 217.58L491.65 212.72" stroke="#168a6c" class="m"/>
<path d="M498.18 225.63L503.04 230.49M498.18 230.49L503.04 225.63" stroke="#168a6c" class="m"/>
<path d="M509.57 240.69L514.43 245.55M509.57 245.55L514.43 240.69" stroke="#168a6c" class="m"/>
<polyline points="307.00,243.12 318.39,245.99 329.78,246.71 341.17,246.71 352.56,246.71 363.94,245.99 375.33,238.82 386.72,230.93 398.11,219.45 409.50,208.70 420.89,195.07 432.28,185.03 443.67,176.42 455.06,172.12 466.44,175.70 477.83,188.61 489.22,205.83 500.61,225.19 512.00,242.41" stroke="#a03cd8" class="ln"/>
<path d="M307.00 240.23L309.89 245.07H304.11Z" stroke="#8e2cc6" class="m" style="fill:#bf7ee8"/>
<path d="M318.39 243.10L321.28 247.94H315.50Z" stroke="#8e2cc6" class="m" style="fill:#bf7ee8"/>
<path d="M329.78 243.82L332.67 248.65H326.89Z" stroke="#8e2cc6" class="m" style="fill:#bf7ee8"/>
<path d="M341.17 243.82L344.06 248.65H338.28Z" stroke="#8e2cc6" class="m" style="fill:#bf7ee8"/>
<path d="M352.56 243.82L355.44 248.65H349.67Z" stroke="#8e2cc6" class="m" style="fill:#bf7ee8"/>
<path d="M363.94 243.10L366.83 247.94H361.06Z" stroke="#8e2cc6" class="m" style="fill:#bf7ee8"/>
<path d="M375.33 235.93L378.22 240.76H372.44Z" stroke="#8e2cc6" class="m" style="fill:#bf7ee8"/>
<path d="M386.72 228.04L389.61 232.87H383.83Z" stroke="#8e2cc6" class="m" style="fill:#bf7ee8"/>
<path d="M398.11 216.56L401.00 221.40H395.22Z" stroke="#8e2cc6" class="m" style="fill:#bf7ee8"/>
<path d="M409.50 205.81L412.39 210.64H406.61Z" stroke="#8e2cc6" class="m" style="fill:#bf7ee8"/>
<path d="M420.89 192.18L423.78 197.01H418.00Z" stroke="#8e2cc6" class="m" style="fill:#bf7ee8"/>
<path d="M432.28 182.14L435.17 186.97H429.39Z" stroke="#8e2cc6" class="m" style="fill:#bf7ee8"/>
<path d="M443.67 173.53L446.56 178.36H440.78Z" stroke="#8e2cc6" class="m" style="fill:#bf7ee8"/>
<path d="M455.06 169.23L457.94 174.06H452.17Z" stroke="#8e2cc6" class="m" style="fill:#bf7ee8"/>
<path d="M466.44 172.81L469.33 177.65H463.56Z" stroke="#8e2cc6" class="m" style="fill:#bf7ee8"/>
<path d="M477.83 185.72L480.72 190.56H474.94Z" stroke="#8e2cc6" class="m" style="fill:#bf7ee8"/>
<path d="M489.22 202.94L492.11 207.77H486.33Z" stroke="#8e2cc6" class="m" style="fill:#bf7ee8"/>
<path d="M500.61 222.30L503.50 227.14H497.72Z" stroke="#8e2cc6" class="m" style="fill:#bf7ee8"/>
<path d="M512.00 239.52L514.89 244.35H509.11Z" stroke="#8e2cc6" class="m" style="fill:#bf7ee8"/>
<polyline points="307.00,243.12 318.39,248.14 329.78,251.01 341.17,251.73 352.56,253.16 363.94,251.73 375.33,248.14 386.72,246.71 398.11,243.12 409.50,232.36 420.89,221.61 432.28,212.28 443.67,205.83 455.06,204.39 466.44,201.52 477.83,207.26 489.22,217.30 500.61,228.78 512.00,243.12" stroke="#e6aa2c" class="ln"/>
<path d="M303.98 243.12H310.02M307.00 240.10V246.15M304.58 240.70L309.42 245.54M304.58 245.54L309.42 240.70" stroke="#dca024" class="m"/>
<path d="M315.36 248.14H321.41M318.39 245.12V251.17M315.97 245.72L320.81 250.56M315.97 250.56L320.81 245.72" stroke="#dca024" class="m"/>
<path d="M326.75 251.01H332.80M329.78 247.99V254.04M327.36 248.59L332.20 253.43M327.36 253.43L332.20 248.59" stroke="#dca024" class="m"/>
<path d="M338.14 251.73H344.19M341.17 248.70V254.75M338.75 249.31L343.59 254.15M338.75 254.15L343.59 249.31" stroke="#dca024" class="m"/>
<path d="M349.53 253.16H355.58M352.56 250.14V256.19M350.14 250.74L354.97 255.58M350.14 255.58L354.97 250.74" stroke="#dca024" class="m"/>
<path d="M360.92 251.73H366.97M363.94 248.70V254.75M361.53 249.31L366.36 254.15M361.53 254.15L366.36 249.31" stroke="#dca024" class="m"/>
<path d="M372.31 248.14H378.36M375.33 245.12V251.17M372.91 245.72L377.75 250.56M372.91 250.56L377.75 245.72" stroke="#dca024" class="m"/>
<path d="M383.70 246.71H389.75M386.72 243.68V249.73M384.30 244.29L389.14 249.13M384.30 249.13L389.14 244.29" stroke="#dca024" class="m"/>
<path d="M395.09 243.12H401.14M398.11 240.10V246.15M395.69 240.70L400.53 245.54M395.69 245.54L400.53 240.70" stroke="#dca024" class="m"/>
<path d="M406.48 232.36H412.52M409.50 229.34V235.39M407.08 229.94L411.92 234.78M407.08 234.78L411.92 229.94" stroke="#dca024" class="m"/>
<path d="M417.86 221.61H423.91M420.89 218.58V224.63M418.47 219.19L423.31 224.02M418.47 224.02L423.31 219.19" stroke="#dca024" class="m"/>
<path d="M429.25 212.28H435.30M432.28 209.26V215.31M429.86 209.86L434.70 214.70M429.86 214.70L434.70 209.86" stroke="#dca024" class="m"/>
<path d="M440.64 205.83H446.69M443.67 202.80V208.85M441.25 203.41L446.09 208.25M441.25 208.25L446.09 203.41" stroke="#dca024" class="m"/>
<path d="M452.03 204.39H458.08M455.06 201.37V207.42M452.64 201.97L457.47 206.81M452.64 206.81L457.47 201.97" stroke="#dca024" class="m"/>
<path d="M463.42 201.52H469.47M466.44 198.50V204.55M464.03 199.10L468.86 203.94M464.03 203.94L468.86 199.10" stroke="#dca024" class="m"/>
<path d="M474.81 207.26H480.86M477.83 204.24V210.29M475.41 204.84L480.25 209.68M475.41 209.68L480.25 204.84" stroke="#dca024" class="m"/>
<path d="M486.20 217.30H492.25M489.22 214.28V220.33M486.80 214.88L491.64 219.72M486.80 219.72L491.64 214.88" stroke="#dca024" class="m"/>
<path d="M497.59 228.78H503.64M500.61 225.75V231.80M498.19 226.36L503.03 231.20M498.19 231.20L503.03 226.36" stroke="#dca024" class="m"/>
<path d="M508.98 243.12H515.02M512.00 240.10V246.15M509.58 240.70L514.42 245.54M509.58 245.54L514.42 240.70" stroke="#dca024" class="m"/>
<path d="M307.00 300.50v-2.5M307.00 171.40v2.5M329.78 300.50v-2.5M329.78 171.40v2.5M352.56 300.50v-2.5M352.56 171.40v2.5M375.33 300.50v-2.5M375.33 171.40v2.5M398.11 300.50v-2.5M398.11 171.40v2.5M420.89 300.50v-2.5M420.89 171.40v2.5M443.67 300.50v-2.5M443.67 171.40v2.5M466.44 300.50v-2.5M466.44 171.40v2.5M489.22 300.50v-2.5M489.22 171.40v2.5M512.00 300.50v-2.5M512.00 171.40v2.5M307.00 171.40h2.5M512.00 171.40h-2.5M307.00 185.74h2.5M512.00 185.74h-2.5M307.00 200.09h2.5M512.00 200.09h-2.5M307.00 214.43h2.5M512.00 214.43h-2.5M307.00 228.78h2.5M512.00 228.78h-2.5M307.00 243.12h2.5M512.00 243.12h-2.5M307.00 257.47h2.5M512.00 257.47h-2.5M307.00 271.81h2.5M512.00 271.81h-2.5M307.00 286.16h2.5M512.00 286.16h-2.5M307.00 300.50h2.5M512.00 300.50h-2.5" class="tick"/>
<rect x="307.00" y="171.40" width="205.00" height="129.10" class="frame"/>
<text x="379.50" y="180.85" class="lt">Fully loaded (i)</text>
<path d="M382.30 179.30H396.30" stroke="#3a88b0" class="ln"/>
<path d="M386.60 179.30H392.00M389.30 176.60V182.00" stroke="#2f7aa2" class="m"/>
<text x="379.50" y="187.10" class="lt">Partially loaded (ii)</text>
<path d="M382.30 186.00H396.30" stroke="#22a084" class="ln"/>
<path d="M386.87 183.57L391.73 188.43M386.87 188.43L391.73 183.57" stroke="#168a6c" class="m"/>
<text x="379.50" y="193.35" class="lt">Partially loaded (iii)</text>
<path d="M382.30 192.70H396.30" stroke="#a03cd8" class="ln"/>
<path d="M389.30 189.81L392.19 194.64H386.41Z" stroke="#8e2cc6" class="m" style="fill:#bf7ee8"/>
<text x="379.50" y="199.60" class="lt">Unloaded (iv)</text>
<path d="M382.30 199.40H396.30" stroke="#e6aa2c" class="ln"/>
<path d="M386.28 199.40H392.32M389.30 196.38V202.42M386.88 196.98L391.72 201.82M386.88 201.82L391.72 196.98" stroke="#dca024" class="m"/>
<text x="302.00" y="172.10" class="yt">0.1</text>
<text x="302.00" y="186.44" class="yt">0.08</text>
<text x="302.00" y="200.79" class="yt">0.06</text>
<text x="302.00" y="215.13" class="yt">0.04</text>
<text x="302.00" y="229.48" class="yt">0.02</text>
<text x="302.00" y="243.82" class="yt">0</text>
<text x="302.00" y="258.17" class="yt">-0.02</text>
<text x="302.00" y="272.51" class="yt">-0.04</text>
<text x="302.00" y="286.86" class="yt">-0.06</text>
<text x="302.00" y="301.20" class="yt">-0.08</text>
<text x="308.00" y="310.10" class="xt">0</text>
<text x="330.78" y="310.10" class="xt">20</text>
<text x="353.56" y="310.10" class="xt">40</text>
<text x="376.33" y="310.10" class="xt">60</text>
<text x="399.11" y="310.10" class="xt">80</text>
<text x="421.89" y="310.10" class="xt">100</text>
<text x="444.67" y="310.10" class="xt">120</text>
<text x="467.44" y="310.10" class="xt">140</text>
<text x="490.22" y="310.10" class="xt">160</text>
<text x="513.00" y="310.10" class="xt">180</text>
<text x="409.50" y="322.90" class="xl">Incident flow angle [deg]</text>
<text transform="translate(269.90 237.10) rotate(-90)" class="yl">Moment coefficient C<tspan class="sub" dy="1.6">MZ</tspan><tspan dy="-1.6"> [-]</tspan></text>
</svg>
</body></html>
